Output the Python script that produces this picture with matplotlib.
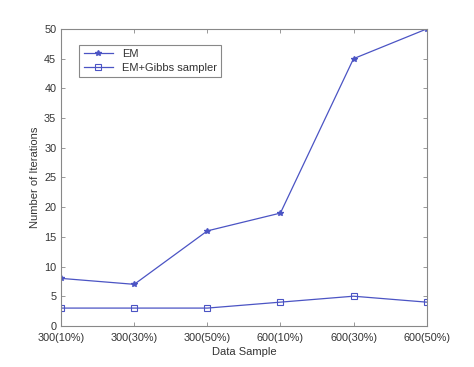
import numpy as np
import matplotlib.pyplot as plt

plt.rcParams['font.family'] = ['Liberation Sans', 'DejaVu Sans']

samples = ["300(10%)", "300(30%)", "300(50%)", "600(10%)", "600(30%)", "600(50%)"]
em = [8, 7, 16, 19, 45, 50]
em_gibbs = [3, 3, 3, 4, 5, 4]

line_col = "#4b54c4"
text_col = "#333333"
axis_col = "#888888"

fig = plt.figure(figsize=(4.74, 3.67), dpi=100)
ax = fig.add_axes([0.129, 0.112, 0.771, 0.809])

x = np.arange(len(samples))
ax.plot(x, em, color=line_col, lw=0.9, marker="*", ms=4, label="EM")
ax.plot(x, em_gibbs, color=line_col, lw=0.9, marker="s", ms=5, mfc="none",
        mew=0.8, label="EM+Gibbs sampler")

ax.set_xlim(0, len(samples) - 1)
ax.set_ylim(0, 50)
ax.set_xticks(x)
ax.set_xticklabels(samples)
ax.set_yticks(np.arange(0, 51, 5))
ax.tick_params(direction="in", top=True, right=True, length=3, width=0.6,
               color=axis_col, labelsize=7.8, labelcolor=text_col)
ax.tick_params(axis="x", pad=5)
for s in ax.spines.values():
    s.set_color(axis_col)
    s.set_linewidth(0.8)

ax.set_xlabel("Data Sample", fontsize=8, color=text_col, labelpad=3)
ax.set_ylabel("Number of Iterations", fontsize=8, color=text_col, labelpad=3)

leg = ax.legend(loc="upper left", bbox_to_anchor=(0.035, 0.965), fontsize=8,
                fancybox=False, framealpha=1, edgecolor=axis_col,
                handlelength=2.6, borderpad=0.4, labelspacing=0.3)
leg.get_frame().set_linewidth(0.8)
for t in leg.get_texts():
    t.set_color(text_col)

fig.savefig("out.png", dpi=100)
